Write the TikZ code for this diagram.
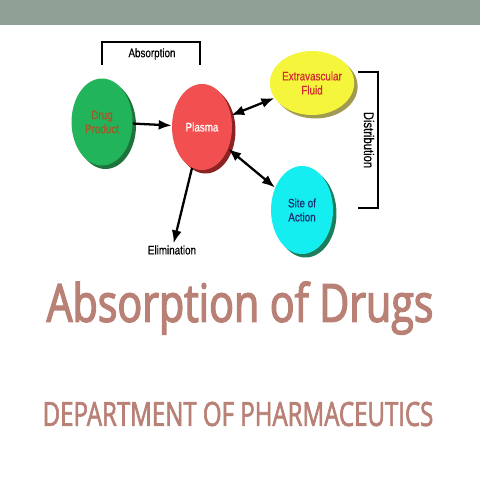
\documentclass[tikz,border=0pt]{standalone}
\usepackage{fontspec}
\setmainfont{Liberation Sans}
\newfontfamily\narrowfont[FakeStretch=0.8,FakeBold=0.6]{Liberation Sans}
\newfontfamily\titlefont[FakeStretch=0.78,FakeBold=2.5]{Open Sans}
\newfontfamily\deptfont[FakeStretch=0.72,FakeBold=1.8]{Open Sans}
\usetikzlibrary{shapes.geometric,shadows,arrows.meta}
\definecolor{bargray}{RGB}{145,160,150}
\definecolor{drugreen}{RGB}{34,180,90}
\definecolor{drugshadow}{RGB}{30,115,60}
\definecolor{plasmared}{RGB}{242,80,80}
\definecolor{plasmashadow}{RGB}{140,35,35}
\definecolor{fluidyellow}{RGB}{245,245,60}
\definecolor{fluidshadow}{RGB}{160,155,80}
\definecolor{sitecyan}{RGB}{20,238,240}
\definecolor{siteshadow}{RGB}{30,125,90}
\definecolor{drugtext}{RGB}{160,90,40}
\definecolor{fluidtext}{RGB}{210,45,45}
\definecolor{sitetext}{RGB}{25,45,110}
\definecolor{titlerose}{RGB}{185,128,118}

\begin{document}
\begin{tikzpicture}[>={Latex[length=2.6mm,width=2mm]}, x=0.02cm, y=-0.02cm,
  blob/.style={ellipse, inner sep=0pt, align=center,
    font=\narrowfont\fontsize{7}{8}\selectfont},
  link/.style={line width=1.3pt},
  bracket/.style={line width=0.9pt}]

	\useasboundingbox (0,0) rectangle (480,480);
	\fill[bargray] (0,0) rectangle (480,25);
	
	% compartments
	\node[blob, minimum width=1.22cm, minimum height=1.74cm, fill=drugreen, text=drugtext,
	  drop shadow={shadow xshift=0.07cm, shadow yshift=-0.07cm, fill=drugshadow, opacity=1}]
	  (drug) at (102,122) {Drug\\Product};
	\node[blob, minimum width=1.2cm, minimum height=1.72cm, fill=plasmared, text=white,
	  drop shadow={shadow xshift=0.07cm, shadow yshift=-0.07cm, fill=plasmashadow, opacity=1}]
	  (plasma) at (202,127) {Plasma};
	\node[blob, minimum width=1.6cm, minimum height=1.28cm, fill=fluidyellow, text=fluidtext,
	  drop shadow={shadow xshift=0.07cm, shadow yshift=-0.07cm, fill=fluidshadow, opacity=1}]
	  (fluid) at (312,83) {Extravascular\\Fluid};
	\node[blob, minimum width=1.24cm, minimum height=1.76cm, fill=sitecyan, text=sitetext,
	  drop shadow={shadow xshift=0.07cm, shadow yshift=-0.07cm, fill=siteshadow, opacity=1}]
	  (site) at (302,210) {Site of\\Action};
	\node[font=\narrowfont\fontsize{7}{8}\selectfont, inner sep=1pt] (elim) at (172,250) {Elimination};
	
	% arrows
	\draw[link,->] (drug) -- (plasma);
	\draw[link,<->] (plasma) -- (fluid);
	\draw[link,<->] (plasma) -- (site);
	\draw[link,->] (plasma) -- (elim);
	
	% brackets
	\coordinate (absL) at (102,65);
	\coordinate (absR) at (200,65);
	\draw[bracket] (absL) -- ++(0,-23) -| (absR);
	\node[font=\narrowfont\fontsize{7}{8}\selectfont] (abslabel) at (152,54) {Absorption};
	\coordinate (disT) at (358,72);
	\coordinate (disB) at (358,208);
	\draw[bracket] (disT) -- ++(20,0) |- (disB);
	\node[font=\narrowfont\fontsize{8}{9}\selectfont, rotate=-90] (dislabel) at (369,140) {Distribution};
	
	% titles
	\node[font=\titlefont\fontsize{30}{34}\selectfont, text=titlerose] (title) at (240,308) {Absorption of Drugs};
	\node[font=\deptfont\fontsize{19}{22}\selectfont, text=titlerose] (dept) at (238,414) {DEPARTMENT OF PHARMACEUTICS};
\end{tikzpicture}
\end{document}
